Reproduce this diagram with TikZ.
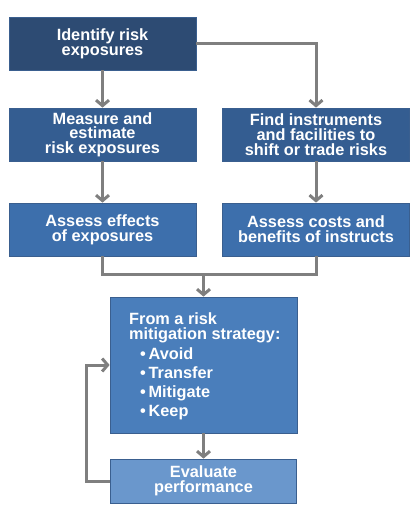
\documentclass[tikz,border=0pt]{standalone}
\usepackage{fontspec}
\setmainfont{Liberation Sans}
\usetikzlibrary{arrows.meta}
\definecolor{cA}{HTML}{2D4B73}
\definecolor{cB}{HTML}{345D91}
\definecolor{cC}{HTML}{3D6FAC}
\definecolor{cD}{HTML}{4A7EBB}
\definecolor{cE}{HTML}{6A97CC}
\definecolor{bord}{HTML}{3A5F8F}
\definecolor{lgray}{HTML}{7F7F7F}
\tikzset{
  box/.style={draw=bord, line width=0.8pt, minimum width=187pt, minimum height=53pt,
    inner sep=0pt, align=center, text=white,
    font=\fontsize{16.3}{14.7}\selectfont\bfseries},
  line/.style={draw=lgray, line width=3pt},
  conn/.style={line, -{Straight Barb[length=5.5pt,width=13pt]}},
  txt/.style={text=white, inner sep=0pt, align=left,
    font=\fontsize{16.3}{14.7}\selectfont\bfseries}
}
\begin{document}
\begin{tikzpicture}[x=1pt,y=-1pt]
\useasboundingbox (0,0) rectangle (419,509);
\node[box, fill=cA] (b1) at (102.5,43.5) {Identify risk\\exposures};
\node[box, fill=cB] (b2) at (102.5,134.5) {Measure and\\estimate\\risk exposures};
\node[box, fill=cB] (b3) at (316,134.5) {Find instruments\\and facilities to\\shift or trade risks};
\node[box, fill=cC] (b4) at (102.5,229.5) {Assess effects\\of exposures};
\node[box, fill=cC] (b5) at (316,229.5) {Assess costs and\\benefits of instructs};
\node[box, fill=cD, minimum height=136pt] (b6) at (203.5,365) {};
\node[txt, anchor=north west] (t6) at (129,312.5) {From a risk\\mitigation strategy:\\[4.3pt]
  \hspace*{11pt}\textbullet\,Avoid\\[4.3pt]
  \hspace*{11pt}\textbullet\,Transfer\\[4.3pt]
  \hspace*{11pt}\textbullet\,Mitigate\\[4.3pt]
  \hspace*{11pt}\textbullet\,Keep};
\node[box, fill=cE, minimum height=44pt, minimum width=186pt] (b7) at (203.5,481) {Evaluate\\performance};
\coordinate (mj) at (203.5,274);
\draw[conn] (b1) -- (b2);
\draw[conn] (b1.east) -| (b3.north);
\draw[conn] (b2) -- (b4);
\draw[conn] (b3) -- (b5);
\draw[line] (b4.south) |- (mj) -| (b5.south);
\draw[conn] (mj) -- (b6.north);
\draw[conn] (b6) -- (b7);
\draw[conn] (b7.west) -- ++(-23.5,0) |- (b6.west);
\end{tikzpicture}
\end{document}
